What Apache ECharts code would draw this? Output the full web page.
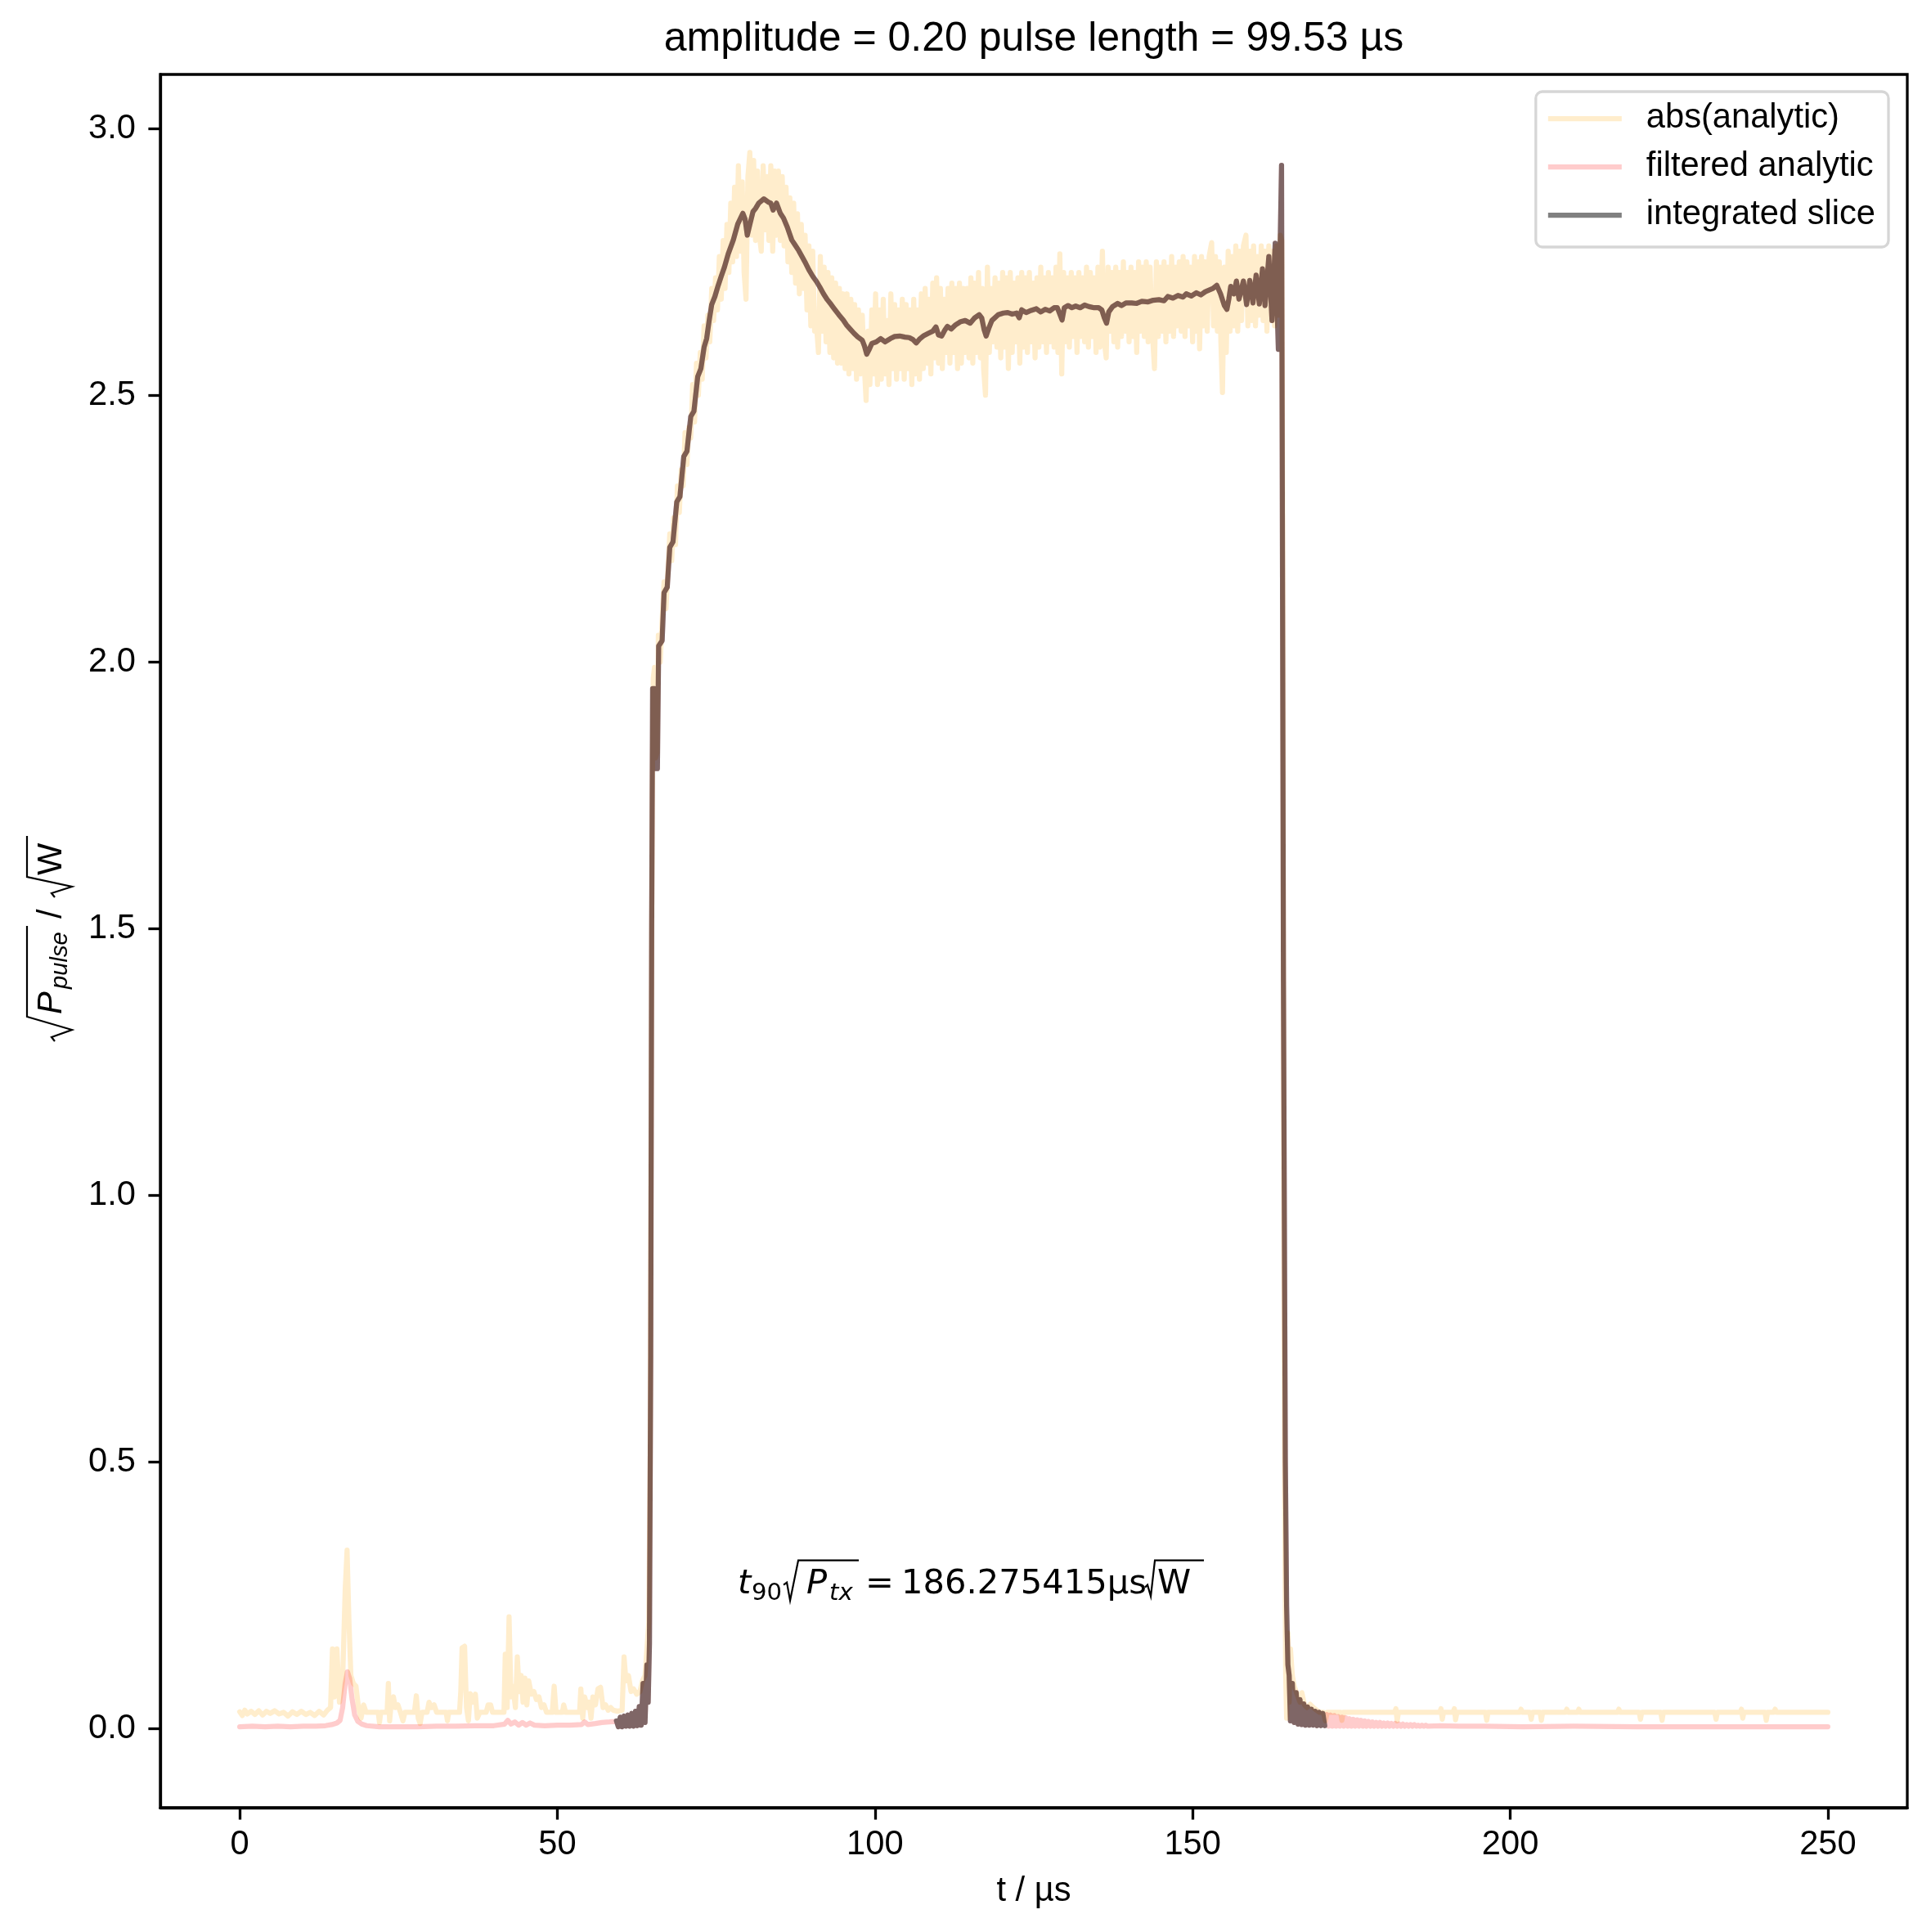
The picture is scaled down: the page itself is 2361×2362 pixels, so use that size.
<!DOCTYPE html>
<html>
<head>
<meta charset="utf-8">
<script src="https://cdn.jsdelivr.net/npm/echarts@6/dist/echarts.min.js"></script>
<style>html,body{margin:0;padding:0;background:#fff}#c{width:2361px;height:2362px}</style>
</head>
<body>
<div id="c"></div>
<script>
// ---------------- data (t in µs, value in sqrt(W)) ----------------
const xTicks = [0, 50, 100, 150, 200, 250];
const yTicks = [0, 0.5, 1.0, 1.5, 2.0, 2.5, 3.0];
const seriesNames = ['abs(analytic)', 'filtered analytic', 'integrated slice'];
const sliceStart = 59.3, sliceEnd = 170.8;

const absPre = [
[0,0.032],[0.4,0.025],[0.8,0.035],[1.2,0.028],[1.8,0.033],[2.4,0.027],[3.0,0.034],[3.6,0.026],[4.2,0.033],[4.8,0.029],
[5.5,0.034],[6.2,0.028],[6.9,0.031],[7.6,0.024],[8.3,0.032],[9.0,0.027],[9.7,0.033],[10.4,0.027],[11.1,0.031],[11.8,0.025],
[12.5,0.033],[13.2,0.026],[13.8,0.035],[14.3,0.04],[14.6,0.15],[14.9,0.06],[15.3,0.15],[15.7,0.05],[16.2,0.09],[16.6,0.26],
[16.9,0.335],[17.2,0.20],[17.5,0.10],[17.9,0.085],[18.3,0.08],[18.7,0.04],[19.1,0.02],[19.5,0.045],[19.9,0.031],[21.0,0.031],
[21.8,0.031],[22.0,0.012],[22.2,0.031],[23.2,0.031],[23.4,0.085],[23.6,0.015],[23.9,0.055],[24.2,0.06],[24.5,0.04],[24.9,0.045],
[25.3,0.031],[25.7,0.015],[26.0,0.031],[27.5,0.031],[27.8,0.062],[28.1,0.02],[28.4,0.01],[28.7,0.031],[29.5,0.031],[29.8,0.05],
[30.2,0.04],[30.6,0.045],[31.0,0.031],[32.5,0.031],[32.7,0.015],[32.9,0.031],[34.6,0.031],[34.8,0.07],[35.0,0.152],[35.4,0.155],
[35.7,0.04],[36.0,0.015],[36.3,0.066],[36.7,0.05],[37.1,0.065],[37.4,0.02],[37.8,0.031],[38.8,0.031],[39.1,0.045],[39.5,0.045],
[39.8,0.031],[41.6,0.031],[41.8,0.14],[42.1,0.04],[42.4,0.21],[42.7,0.06],[43.0,0.08],[43.4,0.04],[43.7,0.135],[44.0,0.07],
[44.3,0.10],[44.6,0.05],[44.9,0.095],[45.2,0.045],[45.5,0.09],[45.9,0.065],[46.3,0.07],[46.7,0.055],[47.1,0.06],[47.5,0.04],
[47.9,0.045],[48.3,0.031],[49.2,0.031],[49.5,0.08],[49.8,0.031],[50.8,0.031],[51.0,0.045],[51.3,0.031],[53.5,0.031],[53.7,0.075],
[54.0,0.02],[54.3,0.06],[54.7,0.04],[55.0,0.05],[55.3,0.02],[55.6,0.06],[56.0,0.045],[56.4,0.075],[56.8,0.078],[57.2,0.04],
[57.6,0.045],[58.0,0.035],[58.4,0.04],[58.8,0.035],[59.5,0.033],[60.2,0.035],[60.5,0.135],[60.8,0.09],[61.2,0.10],[61.6,0.07],
[62.0,0.075],[62.5,0.065],[63.0,0.07],[63.4,0.09],[63.8,0.10],[64.1,0.15],[64.4,0.2]
];

const absPulse = [
[64.6,0.5],[64.8,1.3],[64.95,1.75],[65.1,1.97],[65.3,1.99],[65.45,1.82],[65.7,1.83],[65.9,2.05],[66.2,2.0],[66.5,2.08],
[66.8,2.15],[67.1,2.10],[67.4,2.17],[67.7,2.24],[68.0,2.19],[68.3,2.27],[68.6,2.22],[68.9,2.33],[69.2,2.28],[69.5,2.36],
[69.8,2.33],[70.1,2.43],[70.4,2.37],[70.7,2.44],[71.0,2.42],[71.3,2.52],[71.6,2.45],[71.9,2.56],[72.2,2.50],[72.5,2.58],
[72.8,2.53],[73.1,2.63],[73.4,2.57],[73.7,2.65],[74.0,2.60],[74.3,2.70],[74.6,2.64],[74.9,2.72],[75.2,2.66],[75.5,2.76],
[75.8,2.68],[76.1,2.79],[76.4,2.70],[76.7,2.82],[77.0,2.73],[77.3,2.86],[77.6,2.75],[77.9,2.89],[78.2,2.76],[78.5,2.93],
[78.8,2.77],[79.1,2.90],[79.4,2.73],[79.7,2.68],[80.0,2.91],[80.3,2.955],[80.6,2.80],[80.9,2.94],[81.2,2.79],[81.5,2.92],
[81.8,2.80],[82.1,2.77],[82.4,2.93],[82.7,2.81],[83.0,2.91],[83.3,2.79],[83.6,2.93],[83.9,2.77],[84.2,2.92],[84.5,2.80],
[84.8,2.92],[85.1,2.79],[85.4,2.91],[85.7,2.78],[86.0,2.89],[86.3,2.75],[86.6,2.87],[86.9,2.73],[87.2,2.86],[87.5,2.71],
[87.8,2.84],[88.1,2.69],[88.4,2.82],[88.7,2.70],[89.0,2.80],[89.3,2.66],[89.6,2.78],[89.9,2.63],[90.2,2.77],[90.5,2.62],
[90.8,2.63],[91.1,2.58],[91.4,2.76],[91.7,2.62],[92.0,2.74],[92.3,2.60],[92.6,2.73],[92.9,2.58],[93.2,2.72],[93.5,2.57],
[93.8,2.71],[94.1,2.56],[94.4,2.70],[94.7,2.56],[95.0,2.69],[95.3,2.55],[95.6,2.69],[95.9,2.54],[96.2,2.68],[96.5,2.55],
[96.8,2.67],[97.1,2.53],[97.4,2.66],[97.7,2.54],[98.0,2.65],[98.3,2.56],[98.6,2.49],[98.9,2.62],[99.2,2.52],[99.5,2.66],
[99.8,2.54],[100.1,2.69],[100.4,2.52],[100.7,2.66],[101.0,2.53],[101.3,2.68],[101.6,2.54],[101.9,2.64],[102.2,2.52],[102.5,2.69],
[102.8,2.55],[103.1,2.67],[103.4,2.53],[103.7,2.66],[104.0,2.55],[104.3,2.68],[104.6,2.53],[104.9,2.67],[105.2,2.55],[105.5,2.66],
[105.8,2.52],[106.1,2.68],[106.4,2.54],[106.7,2.66],[107.0,2.53],[107.3,2.69],[107.6,2.55],[107.9,2.70],[108.2,2.56],[108.5,2.68],
[108.8,2.54],[109.1,2.71],[109.4,2.57],[109.7,2.72],[110.0,2.56],[110.3,2.70],[110.6,2.55],[110.9,2.68],[111.2,2.58],[111.5,2.70],
[111.8,2.56],[112.1,2.71],[112.4,2.58],[112.7,2.70],[113.0,2.55],[113.3,2.71],[113.6,2.56],[113.9,2.70],[114.2,2.58],[114.5,2.70],
[114.8,2.57],[115.1,2.72],[115.4,2.56],[115.7,2.71],[116.0,2.58],[116.3,2.73],[116.6,2.57],[116.9,2.70],[117.1,2.55],[117.4,2.50],
[117.7,2.74],[118.0,2.58],[118.3,2.70],[118.6,2.60],[118.9,2.72],[119.2,2.59],[119.5,2.71],[119.8,2.57],[120.1,2.73],[120.4,2.59],
[120.7,2.72],[121.0,2.55],[121.3,2.73],[121.6,2.58],[121.9,2.71],[122.2,2.60],[122.5,2.72],[122.8,2.56],[123.1,2.73],[123.4,2.59],
[123.7,2.72],[124.0,2.58],[124.3,2.73],[124.6,2.60],[124.9,2.71],[125.2,2.57],[125.5,2.72],[125.8,2.59],[126.1,2.74],[126.4,2.60],
[126.7,2.72],[127.0,2.58],[127.3,2.73],[127.6,2.60],[127.9,2.72],[128.2,2.59],[128.5,2.74],[128.8,2.58],[129.1,2.765],[129.4,2.54],
[129.7,2.73],[130.0,2.60],[130.3,2.72],[130.6,2.59],[130.9,2.73],[131.2,2.61],[131.5,2.72],[131.8,2.58],[132.1,2.73],[132.4,2.61],
[132.7,2.72],[133.0,2.60],[133.3,2.74],[133.6,2.59],[133.9,2.73],[134.2,2.61],[134.5,2.72],[134.8,2.58],[135.1,2.74],[135.4,2.59],
[135.8,2.77],[136.1,2.60],[136.4,2.57],[136.7,2.74],[137.0,2.62],[137.3,2.73],[137.6,2.60],[137.9,2.74],[138.2,2.59],[138.5,2.73],
[138.8,2.61],[139.1,2.75],[139.4,2.62],[139.7,2.73],[140.0,2.60],[140.3,2.74],[140.6,2.61],[140.9,2.73],[141.2,2.58],[141.5,2.75],
[141.8,2.62],[142.1,2.74],[142.4,2.61],[142.7,2.75],[143.0,2.60],[143.3,2.74],[143.6,2.63],[144.0,2.55],[144.3,2.75],[144.6,2.61],
[144.9,2.74],[145.2,2.62],[145.5,2.75],[145.8,2.60],[146.1,2.74],[146.4,2.62],[146.7,2.76],[147.0,2.61],[147.3,2.74],[147.6,2.63],
[147.9,2.75],[148.2,2.62],[148.5,2.76],[148.8,2.61],[149.1,2.75],[149.4,2.63],[149.7,2.74],[150.0,2.60],[150.3,2.76],[150.6,2.62],
[150.9,2.75],[151.1,2.587],[151.4,2.76],[151.7,2.63],[152.0,2.75],[152.3,2.62],[152.6,2.76],[153.0,2.786],[153.3,2.63],[153.6,2.76],
[153.9,2.62],[154.2,2.75],[154.45,2.60],[154.7,2.505],[155.0,2.74],[155.3,2.58],[155.6,2.77],[155.9,2.62],[156.2,2.76],[156.5,2.63],
[156.8,2.78],[157.1,2.62],[157.4,2.77],[157.7,2.64],[158.0,2.78],[158.4,2.80],[158.7,2.63],[159.0,2.77],[159.3,2.64],[159.6,2.78],
[159.9,2.63],[160.2,2.76],[160.5,2.65],[160.8,2.78],[161.1,2.64],[161.4,2.77],[161.7,2.62],[162.0,2.78],[162.3,2.64],[162.6,2.77],
[162.9,2.63],[163.2,2.78],[163.5,2.65],[163.8,2.80],[164.05,2.79],[164.2,2.2],[164.35,1.0],[164.5,0.4],[164.65,0.1],[164.8,0.02],
[165.0,0.18],[165.2,0.05],[165.4,0.15],[165.7,0.10],[166.0,0.08],[166.3,0.07],[166.6,0.06],[166.9,0.05],[167.2,0.068],[167.6,0.045],
[168.0,0.04],[168.5,0.046],[169.2,0.038],[170.0,0.031]
];

const absPost = [
[170.6,0.031],[170.9,0.015],[171.2,0.031],[173.3,0.031],[173.5,0.016],[173.7,0.031],[181.8,0.031],[182.0,0.038],[182.2,0.015],[182.4,0.031],
[188.9,0.031],[189.1,0.038],[189.3,0.018],[189.5,0.031],[191.0,0.031],[191.2,0.038],[191.4,0.017],[191.6,0.031],[196.1,0.031],[196.3,0.016],
[196.5,0.031],[201.5,0.031],[201.7,0.037],[201.9,0.031],[203.1,0.031],[203.3,0.018],[203.5,0.031],[204.7,0.031],[204.9,0.016],[205.1,0.031],
[208.7,0.031],[208.9,0.037],[209.1,0.031],[210.6,0.031],[210.8,0.037],[211.0,0.031],[216.9,0.031],[217.1,0.037],[217.3,0.031],[220.3,0.031],
[220.5,0.018],[220.7,0.031],[223.7,0.031],[223.9,0.016],[224.1,0.031],[232.2,0.031],[232.4,0.018],[232.6,0.031],[236.2,0.031],[236.4,0.037],
[236.6,0.02],[236.8,0.031],[240.1,0.031],[240.3,0.016],[240.5,0.031],[241.5,0.031],[241.7,0.037],[241.9,0.031],[250.0,0.031]
];

const filtPre = [
[0,0.004],[2,0.005],[4,0.004],[6,0.005],[8,0.004],[10,0.005],[12,0.005],[13.5,0.006],[14.5,0.008],[15.3,0.011],
[15.8,0.016],[16.2,0.04],[16.6,0.085],[16.95,0.107],[17.3,0.095],[17.7,0.055],[18.1,0.026],[18.6,0.014],[19.2,0.009],[20,0.006],
[22,0.004],[25,0.004],[28,0.004],[31,0.005],[34,0.005],[37,0.006],[40,0.006],[41.7,0.009],[42.2,0.016],[42.7,0.009],
[43.3,0.013],[43.9,0.007],[44.5,0.012],[45.1,0.007],[45.7,0.011],[46.4,0.007],[48,0.006],[50,0.007],[52,0.007],[53.8,0.008],
[54.3,0.013],[54.8,0.008],[56,0.01],[57,0.012],[58.2,0.013],[59.0,0.014]
];

const filtPulse = [
[59.3,0.015],[59.6,0.004],[59.9,0.022],[60.2,0.004],[60.5,0.024],[60.8,0.005],[61.1,0.026],[61.4,0.005],[61.7,0.029],[62.0,0.005],
[62.3,0.033],[62.6,0.006],[62.9,0.042],[63.2,0.007],[63.5,0.085],[63.8,0.012],[64.1,0.12],[64.3,0.05],[64.5,0.16],[64.7,0.7],
[64.85,1.5],[65.0,1.95],[65.3,1.95],[65.45,1.80],[65.75,1.80],[65.95,2.03],[66.5,2.04],[66.8,2.13],[67.3,2.14],[67.7,2.215],
[68.2,2.225],[68.8,2.30],[69.3,2.31],[69.9,2.385],[70.4,2.395],[71.0,2.46],[71.5,2.47],[72.1,2.535],[72.6,2.55],[73.1,2.59],
[73.5,2.606],[73.9,2.64],[74.3,2.67],[74.8,2.685],[75.3,2.705],[75.8,2.723],[76.3,2.74],[76.9,2.765],[77.7,2.791],[78.4,2.821],
[79.2,2.841],[79.55,2.83],[79.9,2.80],[80.3,2.82],[80.8,2.844],[81.2,2.85],[81.7,2.86],[82.5,2.868],[83.2,2.862],[83.6,2.86],
[83.96,2.847],[84.5,2.86],[85.1,2.841],[85.6,2.832],[86.2,2.815],[86.9,2.791],[87.4,2.782],[88.0,2.771],[88.5,2.76],[89.1,2.747],
[89.6,2.735],[90.2,2.723],[90.8,2.713],[91.3,2.703],[91.9,2.69],[92.5,2.679],[93.1,2.67],[93.6,2.662],[94.3,2.651],[95.0,2.641],
[95.5,2.632],[96.1,2.624],[96.7,2.616],[97.3,2.609],[98.0,2.603],[98.35,2.592],[98.7,2.577],[99.1,2.586],[99.5,2.597],[100.2,2.600],
[100.9,2.606],[101.6,2.60],[102.4,2.606],[103.1,2.61],[103.9,2.611],[104.7,2.609],[105.4,2.608],[106.0,2.604],[106.5,2.598],[107.0,2.605],
[107.6,2.611],[108.4,2.616],[109.1,2.62],[109.6,2.628],[110.0,2.613],[110.5,2.611],[111.0,2.622],[111.4,2.629],[112.0,2.624],[112.7,2.632],
[113.5,2.638],[114.2,2.64],[115.0,2.635],[115.7,2.645],[116.4,2.651],[116.8,2.645],[117.2,2.622],[117.5,2.611],[117.9,2.625],[118.4,2.64],
[119.4,2.651],[120.2,2.654],[120.9,2.655],[121.6,2.652],[122.3,2.654],[122.7,2.645],[123.1,2.66],[123.8,2.655],[124.6,2.659],[125.4,2.662],
[126.1,2.656],[126.8,2.661],[127.5,2.658],[128.2,2.664],[128.7,2.664],[129.1,2.652],[129.45,2.641],[129.8,2.664],[130.4,2.668],[131.0,2.664],
[131.6,2.667],[132.3,2.664],[133.0,2.669],[133.7,2.666],[134.5,2.664],[135.2,2.664],[135.7,2.66],[136.1,2.645],[136.45,2.635],[136.8,2.656],
[137.4,2.666],[138.2,2.672],[138.8,2.668],[139.5,2.673],[140.4,2.673],[141.2,2.672],[142.0,2.676],[143.0,2.675],[143.8,2.678],[144.7,2.679],
[145.5,2.677],[146.1,2.685],[146.9,2.682],[147.7,2.687],[148.5,2.684],[149.0,2.69],[149.8,2.686],[150.6,2.692],[151.3,2.688],[152.0,2.694],
[152.6,2.697],[153.2,2.70],[153.8,2.706],[154.4,2.69],[155.0,2.668],[155.4,2.661],[155.7,2.68],[156.0,2.704],[156.5,2.69],[156.9,2.714],
[157.3,2.68],[158.0,2.714],[158.5,2.67],[159.0,2.715],[159.5,2.673],[160.0,2.725],[160.5,2.671],[161.0,2.737],[161.4,2.668],[162.0,2.76],
[162.5,2.64],[163.0,2.785],[163.5,2.586],[164.0,2.931],[164.3,1.4],[164.6,0.5],[164.8,0.23],[165.0,0.12],[165.2,0.10],[165.4,0.015],
[165.7,0.085],[166.0,0.012],[166.3,0.068],[166.6,0.009],[166.9,0.055],[167.2,0.008],[167.5,0.047],[167.8,0.007],[168.1,0.041],[168.4,0.007],
[168.7,0.037],[169.0,0.007],[169.3,0.033],[169.6,0.006],[169.9,0.031],[170.2,0.006],[170.5,0.029],[170.8,0.006]
];

const filtPost = [
[171.1,0.027],[171.4,0.005],[171.7,0.026],[172.0,0.005],[172.3,0.025],[172.6,0.005],[172.9,0.023],[173.2,0.005],[173.5,0.022],[173.8,0.005],
[174.1,0.021],[174.4,0.005],[174.7,0.019],[175.0,0.005],[175.3,0.018],[175.6,0.005],[175.9,0.017],[176.2,0.005],[176.5,0.016],[176.8,0.005],
[177.1,0.015],[177.4,0.005],[177.7,0.014],[178.0,0.005],[178.3,0.013],[178.6,0.005],[178.9,0.012],[179.2,0.005],[179.5,0.012],[179.8,0.005],
[180.1,0.011],[180.4,0.005],[180.7,0.011],[181.0,0.005],[181.3,0.010],[181.6,0.005],[181.9,0.010],[182.2,0.005],[182.5,0.009],[182.8,0.005],
[183.1,0.009],[183.4,0.005],[183.7,0.008],[184.0,0.005],[184.3,0.008],[184.6,0.005],[184.9,0.008],[185.2,0.005],[185.5,0.007],[185.8,0.005],
[186.1,0.007],[186.4,0.005],[186.7,0.007],[187.0,0.005],[189,0.006],[192,0.005],[196,0.005],[202,0.004],[210,0.005],[220,0.004],
[235,0.004],[250,0.004]
];

// ---------------- build ----------------
const absData = absPre.concat(absPulse, absPost);
const filtData = filtPre.concat(filtPulse, filtPost);
const sliceData = filtData.filter(p => p[0] >= sliceStart && p[0] <= sliceEnd);

const FS = 41.67;
const SANS = '"Liberation Sans", Arial, Helvetica, sans-serif';
const MATH = '"DejaVu Sans", sans-serif';
const W = 2361, H = 2362;
const chart = echarts.init(document.getElementById('c'), null, {renderer: 'canvas', width: W, height: H});

function lineSeries(name, color, opacity, data, z) {
  return {
    type: 'line', name: name, data: data, showSymbol: false, symbol: 'none', silent: true,
    z: z, clip: true,
    lineStyle: {color: color, width: 6.25, opacity: opacity, cap: 'round', join: 'round'},
    itemStyle: {color: color}
  };
}

const option = {
  animation: false,
  backgroundColor: '#ffffff',
  grid: {left: 196, top: 91, width: 2136, height: 2119, show: true, borderColor: '#000', borderWidth: 3.3, backgroundColor: 'transparent', containLabel: false},
  xAxis: {
    type: 'value', min: -12.5, max: 262.5,
    axisLine: {show: true, onZero: false, lineStyle: {color: '#000', width: 3.3}},
    axisTick: {show: true, customValues: xTicks, length: 14.6, lineStyle: {color: '#000', width: 3.3}},
    axisLabel: {customValues: xTicks, margin: 25, fontSize: FS, fontFamily: SANS, color: '#000', formatter: v => String(v)},
    splitLine: {show: false}
  },
  yAxis: {
    type: 'value', min: -0.1477, max: 3.1013,
    axisLine: {show: true, onZero: false, lineStyle: {color: '#000', width: 3.3}},
    axisTick: {show: true, customValues: yTicks, length: 14.6, lineStyle: {color: '#000', width: 3.3}},
    axisLabel: {customValues: yTicks, margin: 30, fontSize: FS, fontFamily: SANS, color: '#000', formatter: v => v.toFixed(1)},
    splitLine: {show: false}
  },
  legend: {
    orient: 'vertical', right: 52, top: 112,
    padding: [9, 16, 15, 15],
    itemWidth: 90, itemHeight: 6.25, itemGap: 11,
    icon: 'rect', selectedMode: false,
    backgroundColor: 'rgba(255,255,255,0.8)',
    borderColor: '#d6d6d6', borderWidth: 3.3, borderRadius: 8,
    textStyle: {fontFamily: SANS, fontSize: FS, color: '#000', lineHeight: 48, padding: [0, 0, 0, 25]},
    data: [
      {name: seriesNames[0], itemStyle: {color: '#FFEDCC', opacity: 1, borderWidth: 0}},
      {name: seriesNames[1], itemStyle: {color: '#FFCCCC', opacity: 1, borderWidth: 0}},
      {name: seriesNames[2], itemStyle: {color: '#808080', opacity: 1, borderWidth: 0}}
    ]
  },
  series: [
    lineSeries(seriesNames[0], '#FFA500', 0.2, absData, 2),
    lineSeries(seriesNames[1], '#FF0000', 0.2, filtData, 3),
    lineSeries(seriesNames[2], '#000000', 0.5, sliceData, 4)
  ]
};
chart.setOption(option);

// ---------------- text helpers ----------------
function txt(x, baseline, s, size, family, fstyle, align) {
  return {
    type: 'text', x: x, y: baseline - 0.33 * size, z: 100,
    style: {
      text: s, fill: '#000', fontSize: size, fontFamily: family, fontStyle: fstyle || 'normal', fontWeight: 'normal',
      align: align || 'left', textAlign: align || 'left', verticalAlign: 'middle', textVerticalAlign: 'middle'
    }
  };
}
function rad(points) {
  return {type: 'polyline', z: 100, shape: {points: points}, style: {stroke: '#000', lineWidth: 2.2, fill: 'none', lineJoin: 'miter'}};
}

// y-axis label (rotated): sqrt(P_pulse) / sqrt(W)
const SUB = FS * 0.7;
const yLabel = {
  type: 'group', x: 77, y: 1273, rotation: Math.PI / 2, z: 100,
  children: [
    rad([[0, -10], [5, -14], [14, 11], [30, -44], [141, -44]]),
    txt(33, 0, 'P', FS, SANS, 'italic'),
    txt(64, 7, 'pulse', SUB, SANS, 'italic'),
    txt(150, 0, '/', FS, SANS, 'normal'),
    rad([[176, -10], [181, -14], [189, 11], [201, -44], [251, -44]]),
    txt(203, 0, 'W', FS, SANS, 'normal')
  ]
};

// annotation anchored in data coordinates
const annoAt = chart.convertToPixel({xAxisIndex: 0, yAxisIndex: 0}, [78.4, 0.25]);
const anno = {
  type: 'group', x: annoAt[0], y: annoAt[1], z: 100,
  children: [
    txt(0, 0, 't', FS, MATH, 'italic'),
    txt(17, 7, '90', SUB, MATH, 'normal'),
    rad([[56, -13], [60, -16], [64, 6], [74, -43], [148, -43]]),
    txt(84, 0, 'P', FS, MATH, 'italic'),
    txt(112, 7, 'tx', SUB, MATH, 'italic'),
    txt(156, 0, '=', FS, MATH, 'normal'),
    txt(200, 0, '186.275415µs', FS, MATH, 'normal'),
    rad([[498, -10], [501, -13], [505, 1], [510, -43], [570, -43]]),
    txt(513, 0, 'W', FS, MATH, 'normal')
  ]
};

chart.setOption({
  graphic: [
    txt(1264, 65, 'amplitude = 0.20 pulse length = 99.53 µs', 50, SANS, 'normal', 'center'),
    txt(1264, 2326, 't / µs', FS, SANS, 'normal', 'center'),
    yLabel,
    anno
  ]
});
</script>
</body>
</html>
